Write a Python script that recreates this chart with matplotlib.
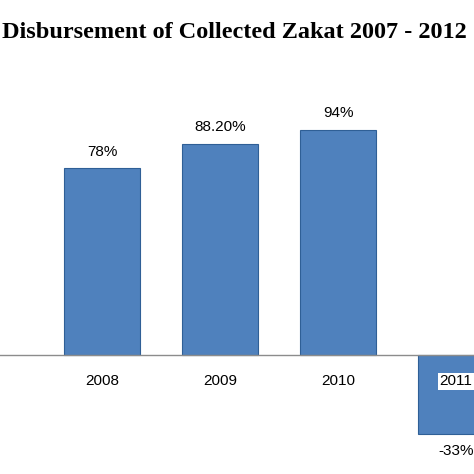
import matplotlib.pyplot as plt

years = ["2007", "2008", "2009", "2010", "2011", "2012"]
values = [None, 78, 88.2, 94, -33, None]
labels = ["", "78%", "88.20%", "94%", "-33%", ""]

fig = plt.figure(figsize=(4.74, 4.74), dpi=100)
ax = fig.add_axes([0, 0, 1, 1])
ax.set_xlim(0.1356, 4.1525)
ax.set_ylim(-49.7, 148.3)
ax.axis("off")

ax.axhline(0, color="#8c8c8c", lw=1)
for i, (yr, v, lab) in enumerate(zip(years, values, labels)):
    if v is None:
        continue
    ax.bar(i, v, width=0.644, color="#4f81bd", edgecolor="#2f5f96", lw=0.8)
    if v >= 0:
        ax.text(i, v + 4, lab, ha="center", va="bottom", fontsize=11, family="Liberation Sans")
        ax.text(i, -11, yr, ha="center", va="center", fontsize=11, family="Liberation Sans")
    else:
        ax.text(i, v - 4, lab, ha="center", va="top", fontsize=11, family="Liberation Sans")
        ax.text(i, -11, yr, ha="center", va="center", fontsize=11, family="Liberation Sans",
                bbox=dict(facecolor="white", edgecolor="none", pad=1))

fig.text(0.495, 0.932, "Disbursement of Collected Zakat 2007 - 2012", ha="center", va="center",
         fontsize=17.5, fontweight="bold", family="Liberation Serif")

fig.savefig("out.png", dpi=100)
